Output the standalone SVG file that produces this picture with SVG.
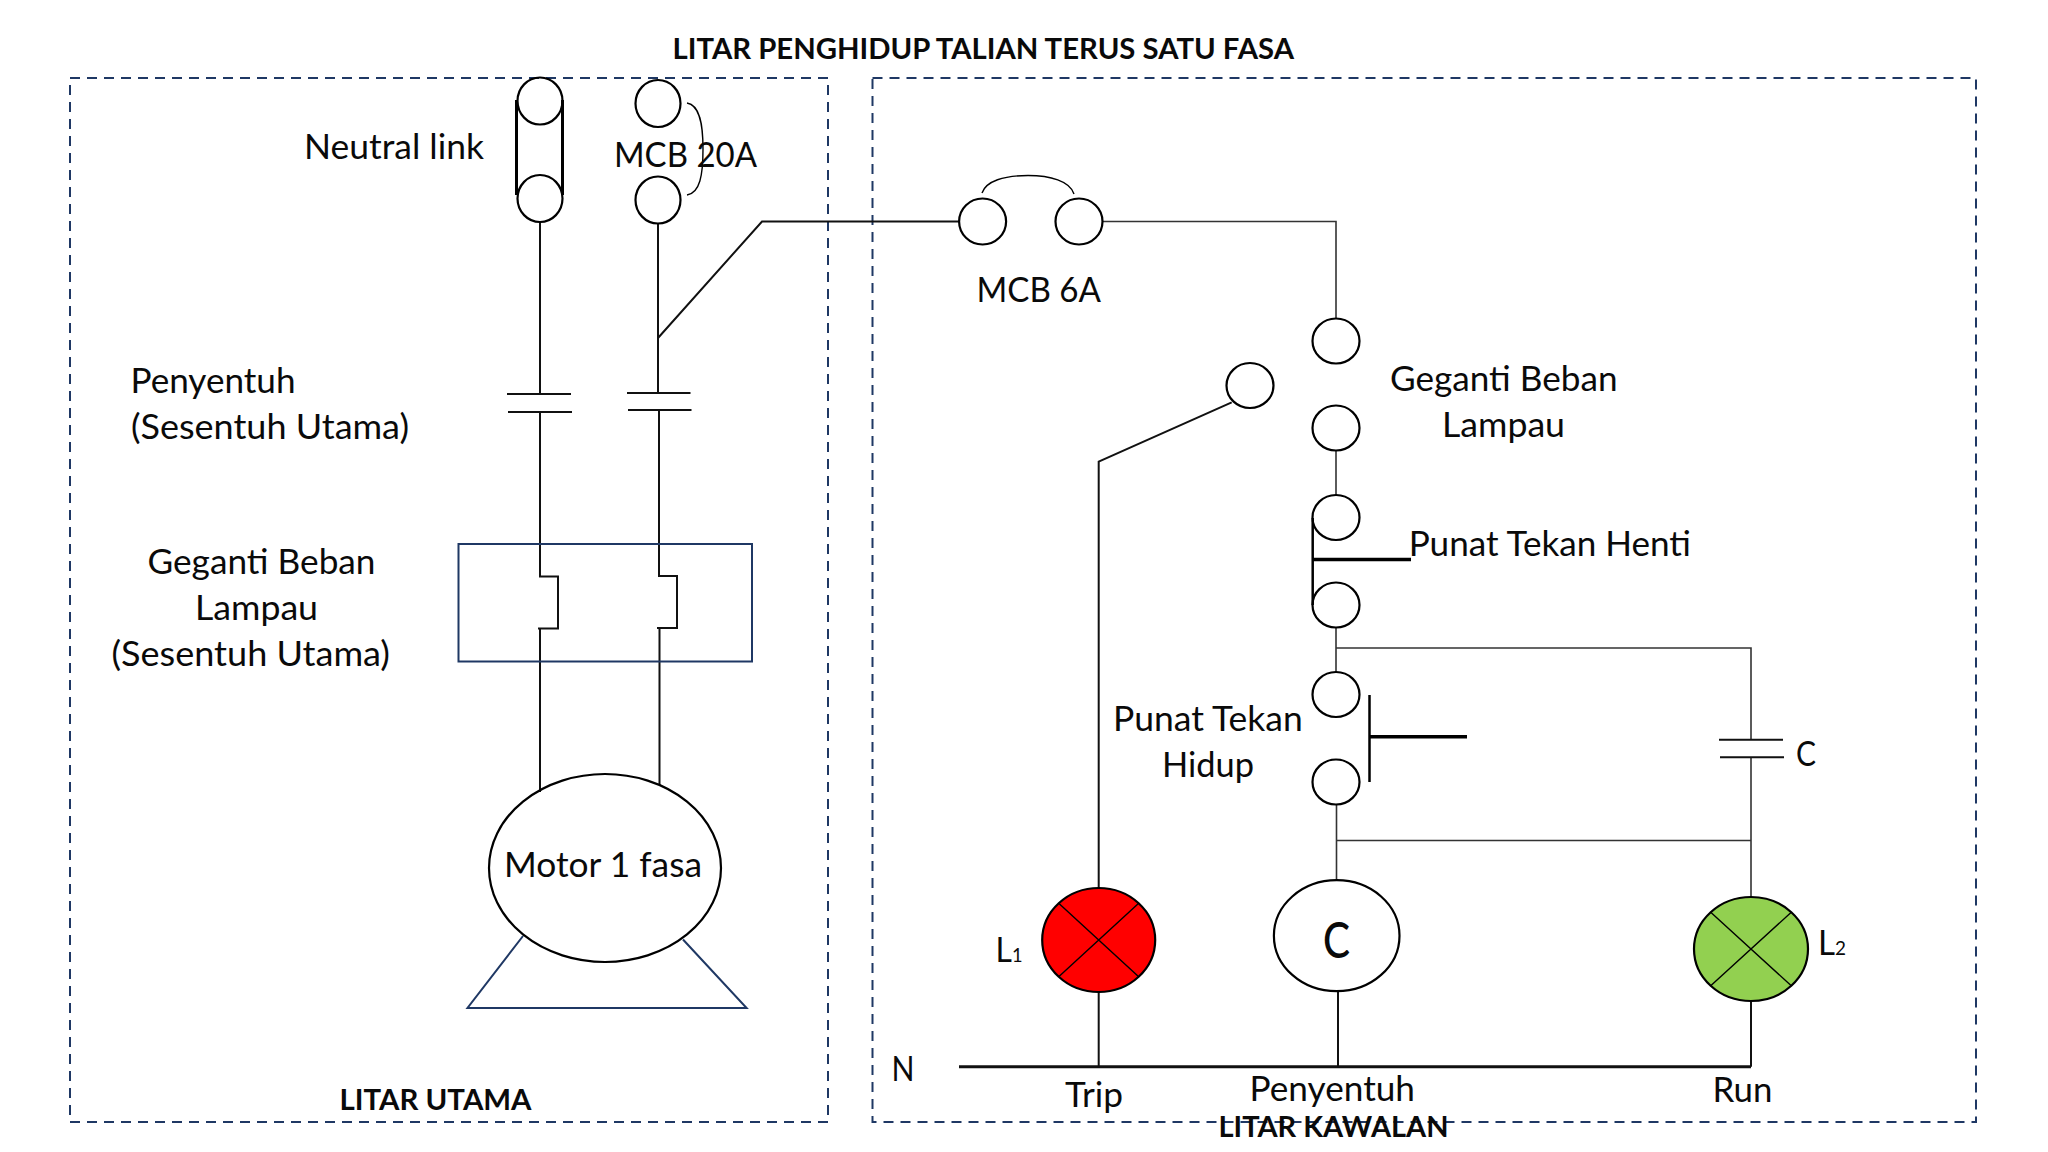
<svg xmlns="http://www.w3.org/2000/svg" width="2048" height="1152" viewBox="0 0 2048 1152">
<style>
text{font-family:Lato,"Liberation Sans",sans-serif;font-size:35px;fill:#0a0a0a}
.b{font-weight:700;font-size:29px}
.w{fill:none;stroke:#111;stroke-width:2}
.t{fill:none;stroke:#333;stroke-width:1.6}
.h{fill:none;stroke:#000;stroke-width:3.5}
.n{fill:none;stroke:#1f3864;stroke-width:2}
.d{fill:none;stroke:#1f3864;stroke-width:2;stroke-dasharray:10 7}
.c{fill:none;stroke:#000;stroke-width:2.2}
.x{fill:none;stroke:#000;stroke-width:1.4}
</style>
<rect width="2048" height="1152" fill="#fff"/>
<g id="frames">
<rect class="d" x="70" y="78" width="758" height="1044"/>
<rect class="d" x="872.500" y="78" width="1103.500" height="1044"/>
</g>
<g id="connectors">
<path class="w" d="M540 222V394M540 412V576.500H558V628.500H538H540V792"/>
<path class="w" d="M658 223V393M659 410V576H677V628H657H659.500V785"/>
<path class="w" d="M658 338L762 221.500H959"/>
<path class="t" d="M1102.600 221.500H1336V318"/>
<path class="t" d="M1336 450.700V495"/>
<path class="t" d="M1336 627V672M1336 648H1751V739.500M1751 757.500V897"/>
<path class="t" d="M1336.500 804.300V880M1337 840.500H1751"/>
<path class="w" d="M1231.700 402.300L1098.700 461.700V888"/>
<path class="w" d="M1098.700 992V1066.700M1338 991V1066.700M1751 1000.700V1066.700"/>
<path class="w" d="M959 1066.700H1751" style="stroke-width:3"/>
<path class="x" d="M982 193C986 181 1004 175.500 1028 175.500C1050 175.500 1070 181 1074 194"/>
<path class="x" d="M687 103C700 105 703 125 703 149C703 175 700 193 687 195"/>
</g>
<g id="neutral-link">
<ellipse class="c" cx="540" cy="101" rx="22.500" ry="23.500"/>
<ellipse class="c" cx="540" cy="198.500" rx="22.500" ry="23.500"/>
<path class="c" style="stroke-width:3" d="M516.500 100V195M562.500 100V195"/>
<text x="304" y="159" textLength="180" lengthAdjust="spacingAndGlyphs">Neutral link</text>
</g>
<g id="mcb-20a">
<ellipse class="c" cx="658" cy="103.500" rx="22.500" ry="23.500"/>
<ellipse class="c" cx="658" cy="200" rx="22.500" ry="23.500"/>
<text x="614" y="167" textLength="143" lengthAdjust="spacingAndGlyphs">MCB 20A</text>
</g>
<g id="penyentuh-utama">
<path class="w" d="M507 394H571M508 412H572M627 393H690.500M628 410H691.500"/>
<text x="130.500" y="393" textLength="165" lengthAdjust="spacingAndGlyphs">Penyentuh</text>
<text x="131" y="439" textLength="278" lengthAdjust="spacingAndGlyphs">(Sesentuh Utama)</text>
</g>
<g id="geganti-utama">
<rect class="n" x="458.500" y="544" width="293.500" height="117.500"/>
<text x="147.500" y="574" textLength="228" lengthAdjust="spacingAndGlyphs">Geganti Beban</text>
<text x="195" y="620" textLength="123" lengthAdjust="spacingAndGlyphs">Lampau</text>
<text x="111.500" y="666" textLength="278.500" lengthAdjust="spacingAndGlyphs">(Sesentuh Utama)</text>
</g>
<g id="motor">
<path class="n" d="M523 936L467.500 1008H746.600L683 939.500"/>
<ellipse class="c" cx="605" cy="868" rx="116" ry="94"/>
<text x="504" y="877" textLength="198" lengthAdjust="spacingAndGlyphs">Motor 1 fasa</text>
</g>
<g id="mcb-6a">
<ellipse class="c" cx="982.600" cy="221.500" rx="23.500" ry="23"/>
<ellipse class="c" cx="1079" cy="221.500" rx="23.500" ry="23"/>
<text x="976.500" y="301.500" textLength="124.500" lengthAdjust="spacingAndGlyphs">MCB 6A</text>
</g>
<g id="geganti-kawalan">
<ellipse class="c" cx="1336" cy="341" rx="23.500" ry="22.500"/>
<ellipse class="c" cx="1250" cy="385.500" rx="23.500" ry="22.500"/>
<ellipse class="c" cx="1336" cy="428" rx="23.500" ry="22.500"/>
<text x="1390" y="391" textLength="227.500" lengthAdjust="spacingAndGlyphs">Geganti Beban</text>
<text x="1442" y="437" textLength="123" lengthAdjust="spacingAndGlyphs">Lampau</text>
</g>
<g id="punat-henti">
<ellipse class="c" cx="1336" cy="517.500" rx="23.500" ry="22.500"/>
<ellipse class="c" cx="1336" cy="605" rx="23.500" ry="22.500"/>
<path class="h" style="stroke-width:2.500" d="M1312.700 518V605"/>
<path class="h" d="M1312.700 559.500H1411"/>
<text x="1408.700" y="556" textLength="282.300" lengthAdjust="spacingAndGlyphs">Punat Tekan Henti</text>
</g>
<g id="punat-hidup">
<ellipse class="c" cx="1336" cy="694.500" rx="23.500" ry="22.500"/>
<ellipse class="c" cx="1336" cy="782" rx="23.500" ry="22.500"/>
<path class="h" style="stroke-width:2.500" d="M1369.500 695V782"/>
<path class="h" d="M1369.500 736.700H1467"/>
<text x="1113" y="731" textLength="189.700" lengthAdjust="spacingAndGlyphs">Punat Tekan</text>
<text x="1162" y="777" textLength="92" lengthAdjust="spacingAndGlyphs">Hidup</text>
</g>
<g id="sesentuh-c">
<path class="w" d="M1719 739.700H1783M1720 757.300H1784"/>
<text x="1796" y="766" textLength="20" lengthAdjust="spacingAndGlyphs">C</text>
</g>
<g id="lampu-l1">
<ellipse cx="1098.700" cy="940" rx="56.500" ry="52" fill="#ff0000" stroke="#000" stroke-width="2.200"/>
<path class="x" d="M1058.700 903.200L1138.700 976.800M1138.700 903.200L1058.700 976.800"/>
<text x="995.500" y="961.500" textLength="27" lengthAdjust="spacingAndGlyphs">L<tspan style="font-size:20px">1</tspan></text>
<text x="1065" y="1106.500" textLength="58" lengthAdjust="spacingAndGlyphs">Trip</text>
</g>
<g id="kontaktor-c">
<ellipse cx="1336.700" cy="935.700" rx="62.800" ry="55.500" fill="#fff" stroke="#000" stroke-width="2.200"/>
<text x="1323" y="958" textLength="27" lengthAdjust="spacingAndGlyphs" style="font-size:50px;font-weight:500">C</text>
<text x="1249.600" y="1101" textLength="165.400" lengthAdjust="spacingAndGlyphs">Penyentuh</text>
</g>
<g id="lampu-l2">
<ellipse cx="1751" cy="949" rx="57" ry="52" fill="#92d050" stroke="#000" stroke-width="2.200"/>
<path class="x" d="M1710.700 912.200L1791.300 985.800M1791.300 912.200L1710.700 985.800"/>
<text x="1818" y="955" textLength="28" lengthAdjust="spacingAndGlyphs">L<tspan style="font-size:20px">2</tspan></text>
<text x="1712.500" y="1101.500" textLength="60" lengthAdjust="spacingAndGlyphs">Run</text>
</g>
<g id="labels">
<text class="b" x="672.600" y="59" textLength="621.400" lengthAdjust="spacingAndGlyphs">LITAR PENGHIDUP TALIAN TERUS SATU FASA</text>
<text class="b" x="339.500" y="1110" textLength="192" lengthAdjust="spacingAndGlyphs">LITAR UTAMA</text>
<text class="b" x="1218.500" y="1137" textLength="230" lengthAdjust="spacingAndGlyphs">LITAR KAWALAN</text>
<text x="891.500" y="1081" textLength="23" lengthAdjust="spacingAndGlyphs">N</text>
</g>
</svg>
